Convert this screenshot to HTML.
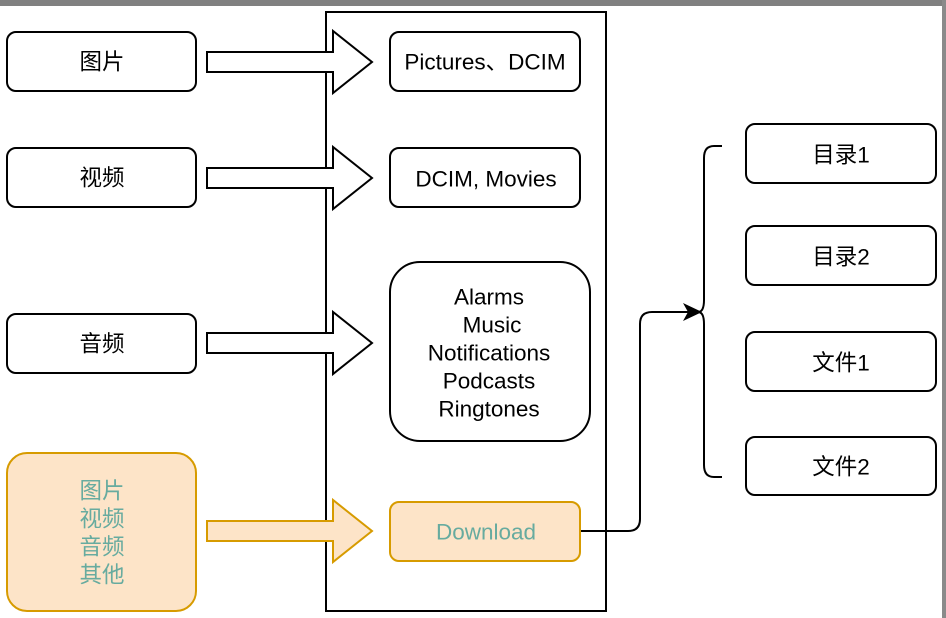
<!DOCTYPE html>
<html><head><meta charset="utf-8"><style>
html,body{margin:0;padding:0;background:#fff;}
svg{display:block;}
text{font-family:"Liberation Sans","Noto Sans CJK SC",sans-serif;font-size:22.5px;text-anchor:middle;dominant-baseline:central;fill:#000;}
.g{fill:#67AB9F;}
</style></head><body>
<svg width="946" height="618" viewBox="0 0 946 618" xmlns="http://www.w3.org/2000/svg">
<rect x="0" y="0" width="946" height="618" fill="#fff"/>
<rect x="0" y="0" width="946" height="6" fill="#808080"/>
<rect x="942" y="0" width="4" height="618" fill="#8a8a8a"/>
<g stroke="#000" stroke-width="2" fill="#fff">
<rect x="326" y="12" width="280" height="599" fill="none"/>
<rect x="7" y="32" width="189" height="59" rx="9"/>
<rect x="7" y="148" width="189" height="59" rx="9"/>
<rect x="7" y="314" width="189" height="59" rx="9"/>
<rect x="390" y="32" width="190" height="59" rx="9"/>
<rect x="390" y="148" width="190" height="59" rx="9"/>
<rect x="390" y="262" width="200" height="179" rx="30"/>
<rect x="746" y="124" width="190" height="59" rx="9"/>
<rect x="746" y="226" width="190" height="59" rx="9"/>
<rect x="746" y="332" width="190" height="59" rx="9"/>
<rect x="746" y="437" width="190" height="58" rx="9"/>
<path d="M207 52 H333 V31 L372 62 L333 93 V72 H207 Z"/>
<path d="M207 168 H333 V147 L372 178 L333 209 V188 H207 Z"/>
<path d="M207 333 H333 V312 L372 343 L333 374 V353 H207 Z"/>
<path d="M722 146 H714 Q704 146 704 158 V300 Q704 312 698 312 Q704 312 704 324 V465 Q704 477 714 477 H722" fill="none"/>
<path d="M580 531 H628 Q640 531 640 519 V324 Q640 312 652 312 H692" fill="none"/>
</g>
<path d="M702 312 L683 303 L688 312 L683 321 Z" fill="#000"/>
<g stroke="#d79b00" stroke-width="2" fill="#fde4c8">
<rect x="7" y="453" width="189" height="158" rx="20"/>
<rect x="390" y="502" width="190" height="59" rx="9"/>
<path d="M207 521 H333 V500 L372 531 L333 562 V541 H207 Z"/>
</g>
<text x="102" y="62">图片</text>
<text x="102" y="178">视频</text>
<text x="102" y="344">音频</text>
<text x="485" y="62">Pictures、DCIM</text>
<text x="486" y="179">DCIM, Movies</text>
<text x="489" y="297">Alarms</text>
<text x="492" y="325">Music</text>
<text x="489" y="353">Notifications</text>
<text x="489" y="381">Podcasts</text>
<text x="489" y="409">Ringtones</text>
<text x="841" y="155">目录1</text>
<text x="841" y="257">目录2</text>
<text x="841" y="363">文件1</text>
<text x="841" y="467">文件2</text>
<text class="g" x="486" y="532">Download</text>
<text class="g" x="102" y="491">图片</text>
<text class="g" x="102" y="519">视频</text>
<text class="g" x="102" y="547">音频</text>
<text class="g" x="102" y="575">其他</text>
</svg>
</body></html>
